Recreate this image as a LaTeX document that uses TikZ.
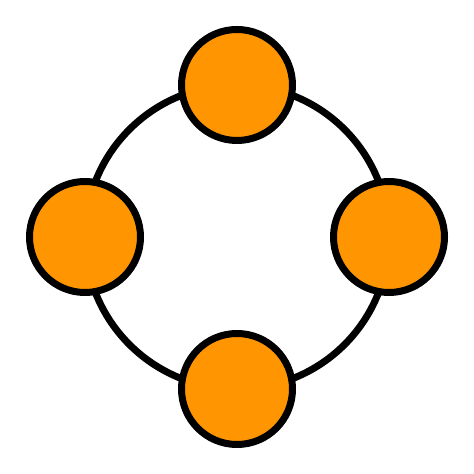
\documentclass[tikz,border=0pt]{standalone}
\usepackage{tikz}
\usetikzlibrary{backgrounds}
\definecolor{dotorange}{RGB}{255,149,0}
\tikzstyle{dot} = [circle, minimum size=2.22cm, inner sep=0pt, line width=0.14cm, draw=black, fill=dotorange]
\tikzstyle{ring} = [line width=0.14cm, draw=black]

\begin{document}
\begin{tikzpicture}
\useasboundingbox (-4.74,-4.74) rectangle (4.74,4.74);
\node (top) [dot] at (0,3.04) {};
\node (left) [dot] at (-3.04,0) {};
\node (right) [dot] at (3.04,0) {};
\node (bottom) [dot] at (0,-3.04) {};

\begin{scope}[on background layer]
\draw [ring] (top.center) to[bend right=45] (left.center);
\draw [ring] (left.center) to[bend right=45] (bottom.center);
\draw [ring] (bottom.center) to[bend right=45] (right.center);
\draw [ring] (right.center) to[bend right=45] (top.center);
\end{scope}
\end{tikzpicture}
\end{document}
